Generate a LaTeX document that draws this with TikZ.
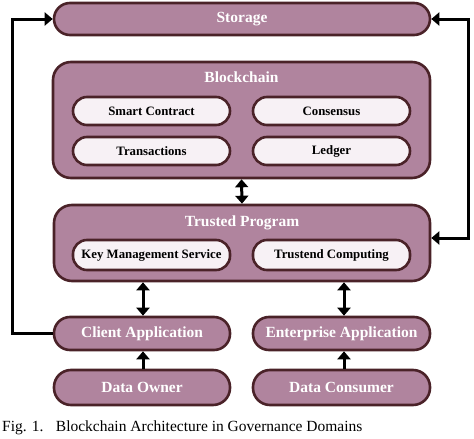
\documentclass[tikz,border=0pt]{standalone}
\usepackage{fontspec}
\setmainfont{Liberation Serif}
\usetikzlibrary{arrows.meta}
\definecolor{mauve}{HTML}{B0849E}
\definecolor{edge}{HTML}{4A2228}
\definecolor{pale}{HTML}{F7F1F5}
\tikzset{
  outer/.style={draw=edge, line width=2.6pt, fill=mauve, rounded corners=#1, inner sep=0pt},
  pill/.style={draw=edge, line width=2.6pt, fill=mauve, rounded corners=16pt, inner sep=0pt,
     text=white, font=\bfseries\fontsize{15.5}{17}\selectfont},
  inbox/.style={draw=edge, line width=2.6pt, fill=pale, rounded corners=14pt, inner sep=0pt,
     minimum width=157pt, minimum height=28pt, font=\bfseries\fontsize{12.8}{14}\selectfont},
  ttl/.style={text=white, font=\bfseries\fontsize{15.5}{17}\selectfont, inner sep=0pt},
  tip/.style={Triangle[length=8pt,width=13pt]},
  conn/.style={line width=3pt, -{Triangle[length=8pt,width=13pt]}},
  dbl/.style={line width=3pt, {Triangle[length=8pt,width=13pt]}-{Triangle[length=8pt,width=13pt]}},
}
\begin{document}
\begin{tikzpicture}[x=1pt,y=-1pt]
\useasboundingbox (0,0) rectangle (474,439);
% Storage
\node[pill, minimum width=376pt, minimum height=32pt] (storage) at (242,19) {Storage};
% Blockchain
\node[outer=18pt, minimum width=377pt, minimum height=116pt] (bc) at (241.5,120) {};
\node[ttl] (bct) at (241.5,77) {Blockchain};
\node[inbox] (sc) at (151.5,111) {Smart Contract};
\node[inbox] (cons) at (331.5,111) {Consensus};
\node[inbox] (tx) at (151.5,151) {Transactions};
\node[inbox] (led) at (331.5,151) {Ledger};
% Trusted program
\node[outer=18pt, minimum width=376pt, minimum height=76pt] (tp) at (242,243) {};
\node[ttl] (tpt) at (242,223) {Trusted Program};
\node[inbox, minimum height=30pt] (kms) at (151.5,255) {Key Management Service};
\node[inbox, minimum height=30pt] (tc) at (331.5,255) {Trustend Computing};
% Applications
\node[pill, minimum width=176pt, minimum height=33pt] (client) at (142,333.5) {Client Application};
\node[pill, minimum width=177pt, minimum height=33pt] (ent) at (341.5,333.5) {Enterprise Application};
\node[pill, minimum width=176pt, minimum height=35pt, rounded corners=17pt] (owner) at (142,387.5) {Data Owner};
\node[pill, minimum width=177pt, minimum height=35pt, rounded corners=17pt] (cons2) at (341.5,387.5) {Data Consumer};
% Connectors
\draw[dbl] (bc.south) -- (tp.north);
\draw[dbl] (tp.south -| client.north) ++(1,0) coordinate (a1) -- (a1 |- client.north);
\draw[dbl] (tp.south -| ent.north) ++(2.5,0) coordinate (a2) -- (a2 |- ent.north);
\draw[conn] (owner.north) ++(1,0) coordinate (b1) -- (b1 |- client.south);
\draw[conn] (cons2.north) ++(2.5,0) coordinate (b2) -- (b2 |- ent.south);
\coordinate (lx) at (12,0);
\coordinate (rx) at (468,0);
\draw[conn, line join=miter]
  (client.west) -- (client.west -| lx) -- (storage.west -| lx) -- (storage.west);
\draw[dbl, line join=miter]
  (tp.east |- 0,238) coordinate (tpe) (tpe) -- (tpe -| rx) -- (storage.east -| rx) -- (storage.east);
% Caption
\node[anchor=west, inner sep=0pt, font=\fontsize{15.5}{17}\selectfont] (cap) at (2,428)
  {Fig. 1.\hspace{0.8em}Blockchain Architecture in Governance Domains};
\end{tikzpicture}
\end{document}
